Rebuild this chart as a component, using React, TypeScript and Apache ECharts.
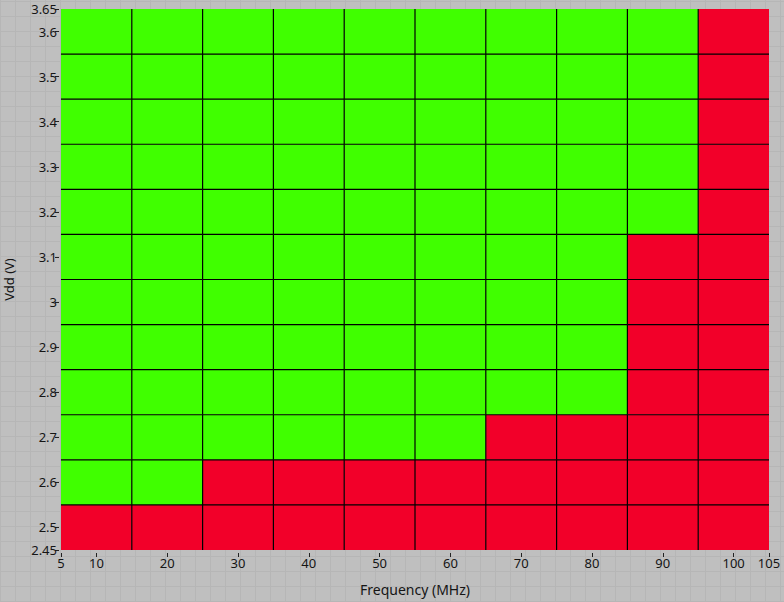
import React, { useEffect, useRef } from "react";
import * as echarts from "echarts";

// Frequency (MHz) cell centres and Vdd (V) cell centres
const frequencies = [10, 20, 30, 40, 50, 60, 70, 80, 90, 100];
const voltages = [2.5, 2.6, 2.7, 2.8, 2.9, 3.0, 3.1, 3.2, 3.3, 3.4, 3.5, 3.6];

// Pass (1) / fail (0) per voltage row (ascending), per frequency column
const passRows = [
  [0, 0, 0, 0, 0, 0, 0, 0, 0, 0], // 2.5
  [1, 1, 0, 0, 0, 0, 0, 0, 0, 0], // 2.6
  [1, 1, 1, 1, 1, 1, 0, 0, 0, 0], // 2.7
  [1, 1, 1, 1, 1, 1, 1, 1, 0, 0], // 2.8
  [1, 1, 1, 1, 1, 1, 1, 1, 0, 0], // 2.9
  [1, 1, 1, 1, 1, 1, 1, 1, 0, 0], // 3.0
  [1, 1, 1, 1, 1, 1, 1, 1, 0, 0], // 3.1
  [1, 1, 1, 1, 1, 1, 1, 1, 1, 0], // 3.2
  [1, 1, 1, 1, 1, 1, 1, 1, 1, 0], // 3.3
  [1, 1, 1, 1, 1, 1, 1, 1, 1, 0], // 3.4
  [1, 1, 1, 1, 1, 1, 1, 1, 1, 0], // 3.5
  [1, 1, 1, 1, 1, 1, 1, 1, 1, 0], // 3.6
];

const xTicks = [5, 10, 20, 30, 40, 50, 60, 70, 80, 90, 100, 105];
const yTicks = [2.45, 2.5, 2.6, 2.7, 2.8, 2.9, 3.0, 3.1, 3.2, 3.3, 3.4, 3.5, 3.6, 3.65];

const X_MIN = 5, X_MAX = 105, Y_MIN = 2.45, Y_MAX = 3.65;
const HALF_W = 5, HALF_H = 0.05;
const PASS_COLOR = "#40ff00";
const FAIL_COLOR = "#f20029";
const FONT = "Noto Sans";

export default function App() {
  const ref = useRef<HTMLDivElement>(null);
  useEffect(() => {
    if (!ref.current) return;
    const chart = echarts.init(ref.current, null, { renderer: "svg" });
    const data: number[][] = [];
    voltages.forEach((v, r) => {
      frequencies.forEach((f, c) => {
        data.push([f, v, passRows[r][c]]);
      });
    });
    const lastF = frequencies[frequencies.length - 1];
    const lastV = voltages[voltages.length - 1];
    chart.setOption({
      animation: false,
      backgroundColor: "transparent",
      grid: { left: 61, top: 9, right: 15, bottom: 52, outerBoundsMode: "none", containLabel: false },
      xAxis: {
        type: "value",
        min: X_MIN,
        max: X_MAX,
        offset: 3,
        name: "Frequency (MHz)",
        nameLocation: "middle",
        nameGap: 29,
        nameTextStyle: { fontFamily: FONT, fontSize: 14, color: "#151515" },
        axisLine: { show: false },
        axisTick: { show: true, customValues: xTicks, length: 4, lineStyle: { color: "#222" } },
        axisLabel: {
          customValues: xTicks,
          fontFamily: FONT,
          fontSize: 13,
          color: "#151515",
          margin: 3,
        },
        splitLine: { show: false },
      },
      yAxis: {
        type: "value",
        min: Y_MIN,
        max: Y_MAX,
        offset: 2,
        name: "Vdd (V)",
        nameLocation: "middle",
        nameGap: 44,
        nameTextStyle: { fontFamily: FONT, fontSize: 13, color: "#151515" },
        axisLine: { show: false },
        axisTick: { show: true, customValues: yTicks, length: 4, lineStyle: { color: "#222" } },
        axisLabel: {
          customValues: yTicks,
          fontFamily: FONT,
          fontSize: 13,
          color: "#151515",
          margin: 2,
          formatter: (v: number) => String(Math.round(v * 100) / 100),
        },
        splitLine: { show: false },
      },
      series: [
        {
          type: "custom",
          data,
          clip: true,
          renderItem: (params: any, api: any) => {
            const x = api.value(0);
            const y = api.value(1);
            const pass = api.value(2);
            const p0 = api.coord([x - HALF_W, y + HALF_H]);
            const p1 = api.coord([x + HALF_W, y - HALF_H]);
            const children: any[] = [
              {
                type: "rect",
                z2: 0,
                shape: { x: p0[0], y: p0[1], width: p1[0] - p0[0], height: p1[1] - p0[1] },
                style: { fill: pass ? PASS_COLOR : FAIL_COLOR, stroke: null },
              },
            ];
            if (x < lastF) {
              children.push({
                type: "line",
                z2: 10,
                shape: { x1: p1[0], y1: p0[1], x2: p1[0], y2: p1[1] },
                style: { stroke: "#000", lineWidth: 1.2 },
              });
            }
            if (y < lastV) {
              children.push({
                type: "line",
                z2: 10,
                shape: { x1: p0[0], y1: p0[1], x2: p1[0], y2: p0[1] },
                style: { stroke: "#000", lineWidth: 1.2 },
              });
            }
            return { type: "group", children };
          },
        },
      ],
    });
    return () => chart.dispose();
  }, []);

  return (
    <div
      style={{
        position: "fixed",
        left: 0,
        top: 0,
        width: 784,
        height: 602,
        backgroundColor: "#bfbfbf",
        backgroundImage:
          "repeating-linear-gradient(0deg, #b6b6b6 0px, #b6b6b6 1px, transparent 1px, transparent 15px), repeating-linear-gradient(90deg, #b6b6b6 0px, #b6b6b6 1px, transparent 1px, transparent 15px)",
      }}
    >
      <div ref={ref} style={{ width: 784, height: 602 }} />
    </div>
  );
}
